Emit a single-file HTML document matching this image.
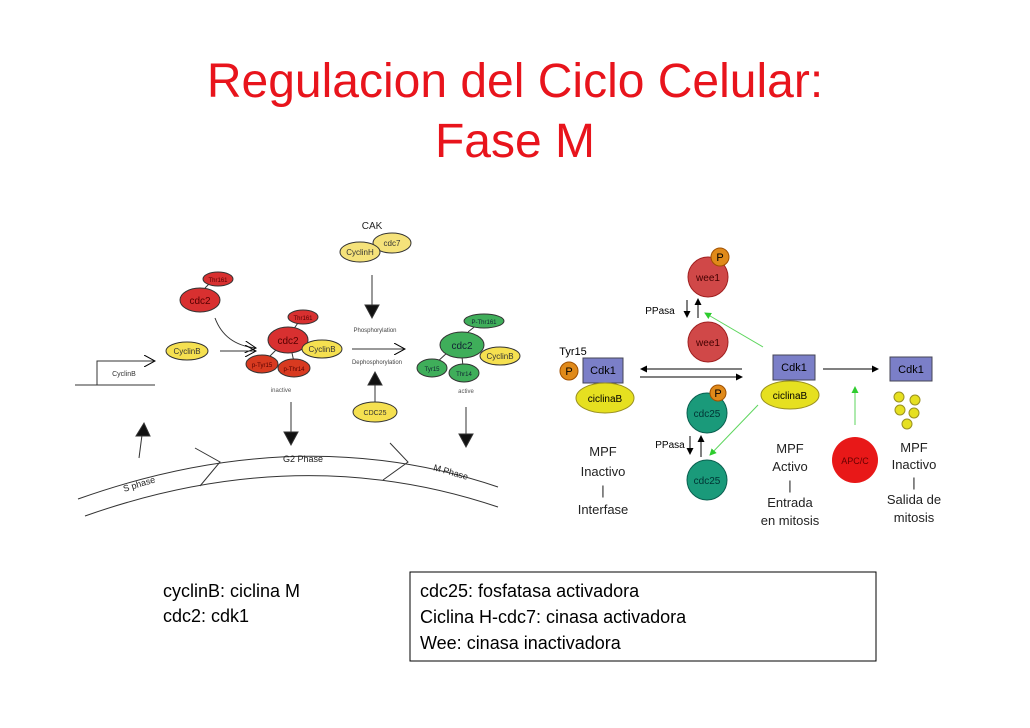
<!DOCTYPE html>
<html><head><meta charset="utf-8"><style>
body{margin:0;background:#fff;width:1030px;height:728px;overflow:hidden;font-family:"Liberation Sans",Arial,sans-serif}
svg{position:absolute;left:0;top:0}
</style></head><body>
<svg width="1030" height="728" viewBox="0 0 1030 728" font-family="Liberation Sans, Arial, sans-serif">
<defs>
<marker id="sm" markerWidth="7" markerHeight="7" refX="6" refY="3.5" orient="auto" markerUnits="userSpaceOnUse"><path d="M0,0 L7,3.5 L0,7z" fill="#000"/></marker>
<marker id="gr" markerWidth="7" markerHeight="7" refX="6" refY="3.5" orient="auto" markerUnits="userSpaceOnUse"><path d="M0,0 L7,3.5 L0,7z" fill="#2ecc2e"/></marker>
<marker id="open" markerWidth="12" markerHeight="12" refX="11" refY="6" orient="auto" markerUnits="userSpaceOnUse"><path d="M0,0 L11,6 L0,12" fill="none" stroke="#000" stroke-width="1"/></marker>
</defs>
<text x="515" y="97" text-anchor="middle" font-size="48" fill="#e8141c">Regulacion del Ciclo Celular:</text>
<text x="515" y="157" text-anchor="middle" font-size="48" fill="#e8141c">Fase M</text>

<!-- LEFT PANEL -->
<g stroke="#333" stroke-width="1">
<text x="372" y="229" text-anchor="middle" font-size="10" stroke="none" fill="#222">CAK</text>
<ellipse cx="392" cy="243" rx="19" ry="10" fill="#f5e27a"/>
<ellipse cx="360" cy="252" rx="20" ry="10" fill="#f5e27a"/>
<text x="392" y="246" font-size="8" text-anchor="middle" stroke="none" fill="#333">cdc7</text>
<text x="360" y="255" font-size="8" text-anchor="middle" stroke="none" fill="#333">CyclinH</text>
<line x1="372" y1="275" x2="372" y2="306"/><path d="M365,305 L379,305 L372,318z" fill="#111"/>
<text x="375" y="332" font-size="6" text-anchor="middle" stroke="none" fill="#444">Phosphorylation</text>
<line x1="352" y1="349" x2="405" y2="349" marker-end="url(#open)"/>
<text x="377" y="364" font-size="6" text-anchor="middle" stroke="none" fill="#444">Dephosphorylation</text>
<line x1="375" y1="402" x2="375" y2="384"/><path d="M368,385 L382,385 L375,372z" fill="#111"/>
<ellipse cx="375" cy="412" rx="22" ry="10" fill="#f5e050"/>
<text x="375" y="415" font-size="7" text-anchor="middle" stroke="none" fill="#333">CDC25</text>

<line x1="205" y1="288" x2="214" y2="279"/>
<ellipse cx="218" cy="279" rx="15" ry="7" fill="#d83030"/>
<text x="218" y="282" font-size="6" text-anchor="middle" stroke="none" fill="#500">Thr161</text>
<ellipse cx="200" cy="300" rx="20" ry="12" fill="#d83030"/>
<text x="200" y="304" font-size="10" text-anchor="middle" stroke="none" fill="#500">cdc2</text>
<path d="M215,318 Q225,345 256,348" fill="none" marker-end="url(#open)"/>
<ellipse cx="187" cy="351" rx="21" ry="9" fill="#f5e050"/>
<text x="187" y="354" font-size="8" text-anchor="middle" stroke="none" fill="#333">CyclinB</text>
<line x1="220" y1="351" x2="256" y2="351" marker-end="url(#open)"/>

<line x1="293" y1="330" x2="300" y2="320"/><line x1="276" y1="350" x2="266" y2="360"/><line x1="292" y1="353" x2="294" y2="362"/>
<ellipse cx="303" cy="317" rx="15" ry="7" fill="#d83030"/>
<text x="303" y="320" font-size="6" text-anchor="middle" stroke="none" fill="#500">Thr161</text>
<ellipse cx="288" cy="340" rx="20" ry="13" fill="#d83030"/>
<text x="288" y="344" font-size="10" text-anchor="middle" stroke="none" fill="#500">cdc2</text>
<ellipse cx="262" cy="364" rx="16" ry="9" fill="#d83a20"/>
<ellipse cx="294" cy="368" rx="16" ry="9" fill="#d83a20"/>
<text x="262" y="367" font-size="6" text-anchor="middle" stroke="none" fill="#500">p-Tyr15</text>
<text x="294" y="371" font-size="6" text-anchor="middle" stroke="none" fill="#500">p-Thr14</text>
<ellipse cx="322" cy="349" rx="20" ry="9" fill="#f5e050"/>
<text x="322" y="352" font-size="8" text-anchor="middle" stroke="none" fill="#333">CyclinB</text>
<text x="281" y="392" font-size="6" text-anchor="middle" stroke="none" fill="#555">inactive</text>
<line x1="291" y1="402" x2="291" y2="432"/><path d="M284,432 L298,432 L291,445z" fill="#111"/>

<line x1="468" y1="332" x2="478" y2="324"/><line x1="448" y1="352" x2="436" y2="363"/><line x1="462" y1="357" x2="463" y2="366"/>
<ellipse cx="484" cy="321" rx="20" ry="7" fill="#3fae5a"/>
<text x="484" y="324" font-size="6" text-anchor="middle" stroke="none" fill="#123">P-Thr161</text>
<ellipse cx="462" cy="345" rx="22" ry="13" fill="#3fae5a"/>
<text x="462" y="349" font-size="10" text-anchor="middle" stroke="none" fill="#123">cdc2</text>
<ellipse cx="432" cy="368" rx="15" ry="9" fill="#3fae5a"/>
<ellipse cx="464" cy="373" rx="15" ry="9" fill="#3fae5a"/>
<text x="432" y="371" font-size="6" text-anchor="middle" stroke="none" fill="#123">Tyr15</text>
<text x="464" y="376" font-size="6" text-anchor="middle" stroke="none" fill="#123">Thr14</text>
<ellipse cx="500" cy="356" rx="20" ry="9" fill="#f5e050"/>
<text x="500" y="359" font-size="8" text-anchor="middle" stroke="none" fill="#333">CyclinB</text>
<text x="466" y="393" font-size="6" text-anchor="middle" stroke="none" fill="#555">active</text>
<line x1="466" y1="407" x2="466" y2="434"/><path d="M459,434 L473,434 L466,447z" fill="#111"/>

<polyline points="75,385 155,385" fill="none"/>
<polyline points="97,385 97,361 155,361" fill="none" marker-end="url(#open)"/>
<text x="124" y="376" font-size="7" text-anchor="middle" stroke="none" fill="#333">CyclinB</text>
<line x1="139" y1="458" x2="142" y2="435"/><path d="M136,436 L150,436 L144,423z" fill="#111"/>

<path d="M78,499 Q300,420 498,487" fill="none"/>
<path d="M85,516 Q300,440 498,507" fill="none"/>
<polyline points="195,448 220,462 200,486" fill="none"/>
<polyline points="390,443 408,462 383,480" fill="none"/>
<text x="303" y="462" font-size="9" text-anchor="middle" stroke="none" fill="#222">G2 Phase</text>
<text x="140" y="487" font-size="9" text-anchor="middle" stroke="none" fill="#222" transform="rotate(-17 140 487)">S phase</text>
<text x="450" y="475" font-size="9" text-anchor="middle" stroke="none" fill="#222" transform="rotate(16 450 475)">M Phase</text>
</g>

<!-- RIGHT PANEL -->
<g font-size="11">
<circle cx="708" cy="277" r="20" fill="#d04848" stroke="#a02020"/>
<circle cx="720" cy="257" r="9" fill="#e08a1a" stroke="#a05000"/>
<text x="720" y="261" font-size="11" text-anchor="middle">P</text>
<text x="708" y="281" font-size="10" text-anchor="middle" fill="#400">wee1</text>
<circle cx="708" cy="342" r="20" fill="#d04848" stroke="#a02020"/>
<text x="708" y="346" font-size="10" text-anchor="middle" fill="#400">wee1</text>
<text x="660" y="314" font-size="10" text-anchor="middle">PPasa</text>
<line x1="687" y1="300" x2="687" y2="317" stroke="#000" marker-end="url(#sm)"/>
<line x1="698" y1="318" x2="698" y2="299" stroke="#000" marker-end="url(#sm)"/>
<line x1="763" y1="347" x2="705" y2="313" stroke="#5ed65e" marker-end="url(#gr)"/>

<text x="573" y="355" font-size="11" text-anchor="middle">Tyr15</text>
<rect x="583" y="358" width="40" height="25" fill="#7b7fc8" stroke="#445"/>
<text x="603" y="374" font-size="11" text-anchor="middle">Cdk1</text>
<circle cx="569" cy="371" r="9" fill="#e08a1a" stroke="#a05000"/>
<text x="569" y="375" font-size="11" text-anchor="middle">P</text>
<ellipse cx="605" cy="398" rx="29" ry="15" fill="#e6e020" stroke="#999020"/>
<text x="605" y="402" font-size="10" text-anchor="middle">ciclinaB</text>
<line x1="742" y1="369" x2="641" y2="369" stroke="#000" marker-end="url(#sm)"/>
<line x1="640" y1="377" x2="742" y2="377" stroke="#000" marker-end="url(#sm)"/>

<rect x="773" y="355" width="42" height="25" fill="#7b7fc8" stroke="#445"/>
<text x="794" y="371" font-size="11" text-anchor="middle">Cdk1</text>
<ellipse cx="790" cy="395" rx="29" ry="14" fill="#e6e020" stroke="#999020"/>
<text x="790" y="399" font-size="10" text-anchor="middle">ciclinaB</text>
<line x1="823" y1="369" x2="878" y2="369" stroke="#000" marker-end="url(#sm)"/>
<rect x="890" y="357" width="42" height="24" fill="#7b7fc8" stroke="#445"/>
<text x="911" y="373" font-size="11" text-anchor="middle">Cdk1</text>
<g fill="#e6e020" stroke="#999020">
<circle cx="899" cy="397" r="5"/><circle cx="915" cy="400" r="5"/><circle cx="900" cy="410" r="5"/><circle cx="914" cy="413" r="5"/><circle cx="907" cy="424" r="5"/>
</g>

<circle cx="707" cy="413" r="20" fill="#1a9a7a" stroke="#0a6050"/>
<circle cx="718" cy="393" r="8" fill="#e08a1a" stroke="#a05000"/>
<text x="718" y="397" font-size="11" text-anchor="middle">P</text>
<text x="707" y="417" font-size="10" text-anchor="middle" fill="#033">cdc25</text>
<circle cx="707" cy="480" r="20" fill="#1a9a7a" stroke="#0a6050"/>
<text x="707" y="484" font-size="10" text-anchor="middle" fill="#033">cdc25</text>
<text x="670" y="448" font-size="10" text-anchor="middle">PPasa</text>
<line x1="690" y1="436" x2="690" y2="454" stroke="#000" marker-end="url(#sm)"/>
<line x1="701" y1="457" x2="701" y2="436" stroke="#000" marker-end="url(#sm)"/>
<line x1="758" y1="405" x2="710" y2="455" stroke="#5ed65e" marker-end="url(#gr)"/>

<circle cx="855" cy="460" r="23" fill="#e81818"/>
<text x="855" y="464" font-size="9" text-anchor="middle" fill="#600">APC/C</text>
<line x1="855" y1="425" x2="855" y2="387" stroke="#5ed65e" marker-end="url(#gr)"/>

<g text-anchor="middle" fill="#222" font-size="13">
<text x="603" y="456">MPF</text><text x="603" y="476">Inactivo</text><text x="603" y="495">|</text><text x="603" y="514">Interfase</text>
<text x="790" y="453">MPF</text><text x="790" y="471">Activo</text><text x="790" y="490">|</text><text x="790" y="507">Entrada</text><text x="790" y="525">en mitosis</text>
<text x="914" y="452">MPF</text><text x="914" y="469">Inactivo</text><text x="914" y="487">|</text><text x="914" y="504">Salida de</text><text x="914" y="522">mitosis</text>
</g>
</g>

<!-- BOTTOM -->
<g font-size="18" fill="#000">
<text x="163" y="597">cyclinB: ciclina M</text>
<text x="163" y="622">cdc2: cdk1</text>
<rect x="410" y="572" width="466" height="89" fill="none" stroke="#000"/>
<text x="420" y="597">cdc25: fosfatasa activadora</text>
<text x="420" y="623">Ciclina H-cdc7: cinasa activadora</text>
<text x="420" y="649">Wee: cinasa inactivadora</text>
</g>
</svg>
</body></html>
